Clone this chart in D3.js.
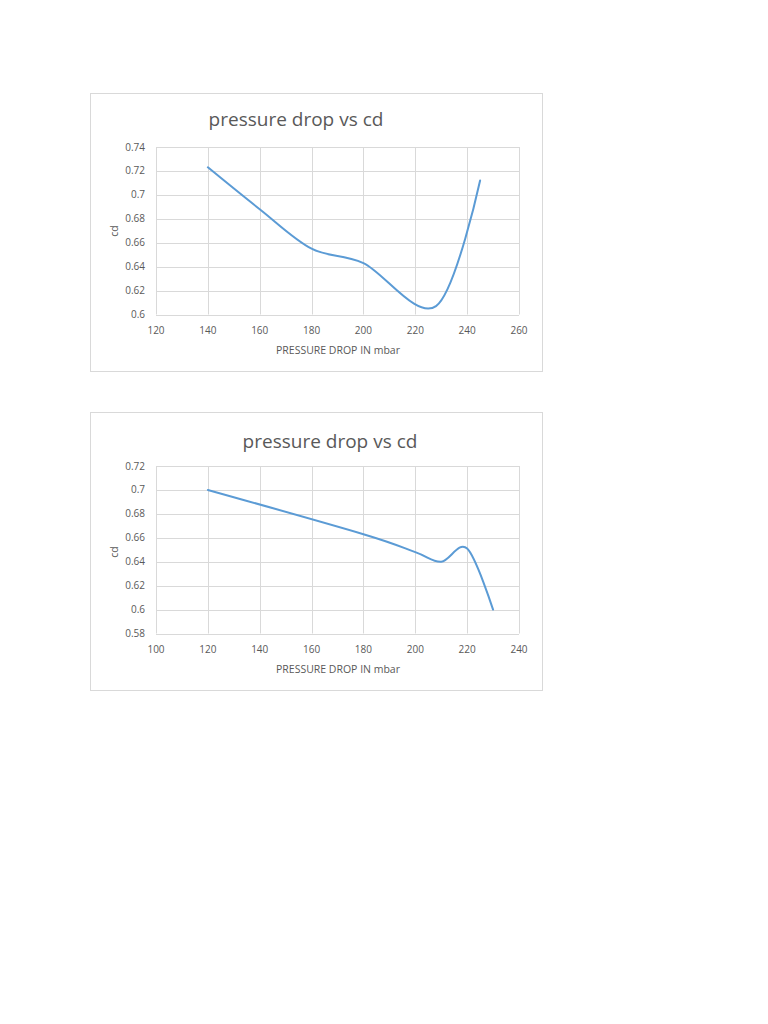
<!DOCTYPE html>
<html>
<head>
<meta charset="utf-8">
<script src="https://cdn.jsdelivr.net/npm/d3@7"></script>
<style>
  body { margin: 0; background: #fff; }
  text { font-family: "Open Sans", sans-serif; fill: #595959; }
</style>
</head>
<body>
<script>
// chart 1
var pressure1 = [140, 160, 180, 200, 228, 245];
var cd1 = [0.723, 0.688, 0.655, 0.643, 0.607, 0.712];
var xTicks1 = [120, 140, 160, 180, 200, 220, 240, 260];
var yTicks1 = [0.6, 0.62, 0.64, 0.66, 0.68, 0.7, 0.72, 0.74];

// chart 2
var pressure2 = [120, 180, 200, 210, 220, 230];
var cd2 = [0.700, 0.663, 0.648, 0.640, 0.651, 0.600];
var xTicks2 = [100, 120, 140, 160, 180, 200, 220, 240];
var yTicks2 = [0.58, 0.6, 0.62, 0.64, 0.66, 0.68, 0.7, 0.72];

var w = 768, h = 1024;
var svg = d3.select("body").append("svg")
    .attr("width", w)
    .attr("height", h);

function drawChart(top, xs, ys, xTicks, yTicks, titleX) {
    var g = svg.append("g").attr("transform", "translate(90," + top + ")");

    // outer frame
    g.append("rect")
        .attr("x", 0.5).attr("y", 0.5)
        .attr("width", 452).attr("height", 278)
        .attr("fill", "#fff")
        .attr("stroke", "#d9d9d9");

    var xScale = d3.scaleLinear()
        .domain([xTicks[0], xTicks[xTicks.length - 1]])
        .range([66, 429]);
    var yScale = d3.scaleLinear()
        .domain([yTicks[0], yTicks[yTicks.length - 1]])
        .range([221.5, 54]);

    // grid
    g.selectAll(".vg").data(xTicks).enter().append("line")
        .attr("x1", function(d) { return Math.round(xScale(d)) + 0.5; })
        .attr("x2", function(d) { return Math.round(xScale(d)) + 0.5; })
        .attr("y1", yScale.range()[1])
        .attr("y2", yScale.range()[0])
        .attr("stroke", "#d9d9d9");
    g.selectAll(".hg").data(yTicks).enter().append("line")
        .attr("y1", function(d) { return Math.round(yScale(d)) + 0.5; })
        .attr("y2", function(d) { return Math.round(yScale(d)) + 0.5; })
        .attr("x1", xScale.range()[0])
        .attr("x2", xScale.range()[1])
        .attr("stroke", "#d9d9d9");

    // tick labels
    g.selectAll(".yl").data(yTicks).enter().append("text")
        .attr("x", 55)
        .attr("y", function(d) { return yScale(d); })
        .attr("dy", "0.35em")
        .attr("text-anchor", "end")
        .attr("font-size", 10)
        .text(function(d) { return d3.format("")(+d.toFixed(2)); });
    g.selectAll(".xl").data(xTicks).enter().append("text")
        .attr("x", function(d) { return xScale(d); })
        .attr("y", 237.5)
        .attr("dy", "0.35em")
        .attr("text-anchor", "middle")
        .attr("font-size", 10)
        .text(function(d) { return d; });

    // titles
    g.append("text")
        .attr("x", titleX)
        .attr("y", top === 93 ? 33 : 36)
        .attr("text-anchor", "middle")
        .attr("font-size", 19)
        .text("pressure drop vs cd");
    g.append("text")
        .attr("x", 248)
        .attr("y", 257)
        .attr("dy", "0.35em")
        .attr("text-anchor", "middle")
        .attr("font-size", 10.5)
        .text("PRESSURE DROP IN mbar");
    g.append("text")
        .attr("transform", "translate(24," + (top === 93 ? 138 : 140) + ") rotate(-90)")
        .attr("dy", "0.35em")
        .attr("text-anchor", "middle")
        .attr("font-size", 10.5)
        .text("cd");

    // smoothed line
    var pts = xs.map(function(x, i) { return [x, ys[i]]; });
    var line = d3.line()
        .x(function(d) { return xScale(d[0]); })
        .y(function(d) { return yScale(d[1]); })
        .curve(d3.curveCardinal.tension(0));
    g.append("path")
        .datum(pts)
        .attr("d", line)
        .attr("fill", "none")
        .attr("stroke", "#5b9bd5")
        .attr("stroke-width", 2)
        .attr("stroke-linecap", "round");
}

drawChart(93, pressure1, cd1, xTicks1, yTicks1, 206);
drawChart(412, pressure2, cd2, xTicks2, yTicks2, 240);
</script>
</body>
</html>
